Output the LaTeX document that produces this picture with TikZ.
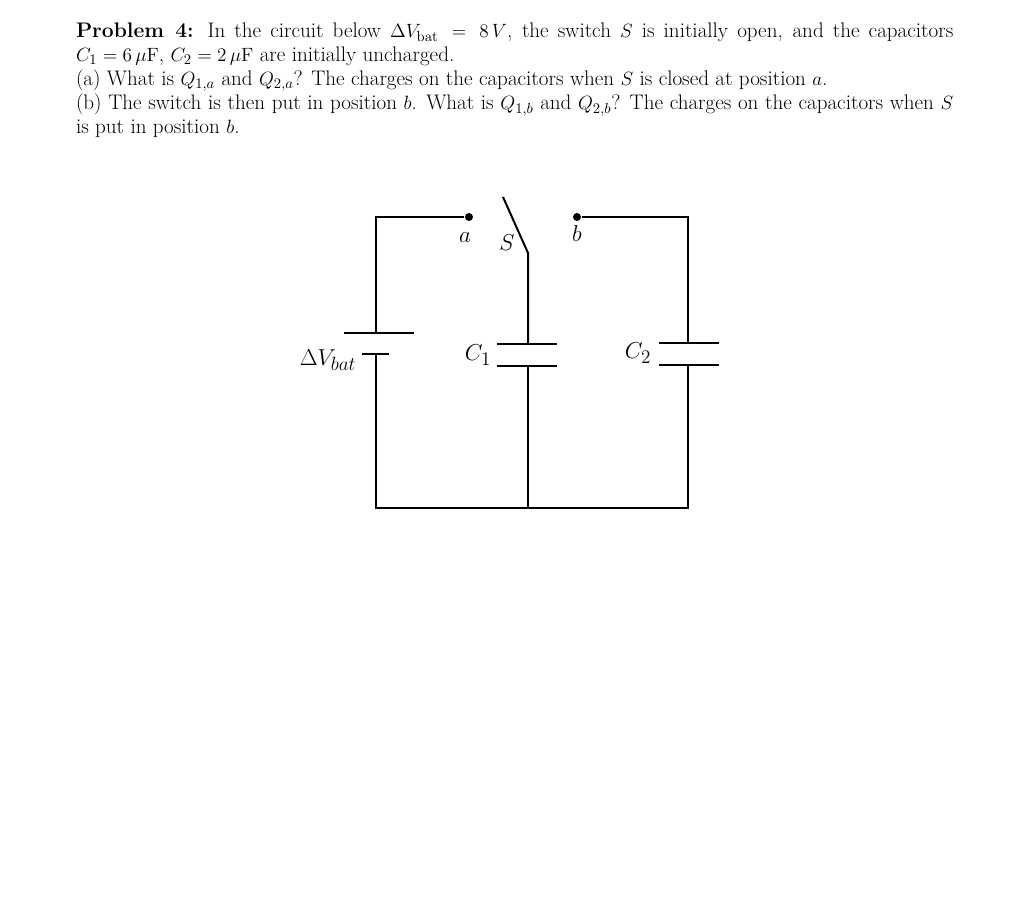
\documentclass[tikz,border=0pt]{standalone}
\begin{document}
\begin{tikzpicture}[x=0.75pt,y=-0.75pt,line width=1.5pt,
  wire/.style={line width=1.5pt},
  dot/.style={circle,fill=black,inner sep=0pt,minimum size=6pt},
  lbl/.style={font=\fontsize{19}{22}\selectfont}]
\useasboundingbox (0,0) rectangle (1024,919);
\node[anchor=north west,inner sep=0pt,text width=658pt,align=justify,font=\fontsize{15.8}{18}\selectfont] (txt) at (75,22)
{\textbf{Problem 4:} In the circuit below $\Delta V_{\mathrm{bat}}\,=\,8\,V$, the switch $S$ is initially open, and the capacitors $C_1=6\,\mu\mathrm{F}$, $C_2=2\,\mu\mathrm{F}$ are initially uncharged.\\
(a) What is $Q_{1,a}$ and $Q_{2,a}$? The charges on the capacitors when $S$ is closed at position $a$.\\
(b) The switch is then put in position $b$. What is $Q_{1,b}$ and $Q_{2,b}$? The charges on the capacitors when $S$ is put in position $b$.};
% coordinates
\node[dot] (a) at (469,217) {};
\node[dot] (b) at (577,217) {};
\coordinate (tl) at (376,217);
\coordinate (tr) at (688,217);
\coordinate (bl) at (376,508);
\coordinate (bm) at (528,508);
\coordinate (br) at (688,508);
\coordinate (s0) at (503,197);
\coordinate (s1) at (528,253);
% battery
\coordinate (bp) at (376,333);
\coordinate (bn) at (376,354);
\draw[wire] (bp) -- (tl) -- (a);
\draw[wire] (344,333) -- (414,333);
\draw[wire] (362,354) -- (389,354);
\draw[wire] (bn) -- (bl) -- (br) -- (688,365);
\draw[wire] (688,343) -- (tr) -- (b);
% switch and C1
\draw[wire] (s0) -- (s1) -- (528,344);
\draw[wire] (497,344) -- (557,344);
\draw[wire] (497,366) -- (557,366);
\draw[wire] (528,366) -- (bm);
% C2
\draw[wire] (659,343) -- (719,343);
\draw[wire] (659,365) -- (719,365);
% labels
\node[lbl] (la) at (465,238) {$a$};
\node[lbl] (lS) at (507,243) {$S$};
\node[lbl] (lb) at (577,234) {$b$};
\node[lbl] (lv) at (328,360) {$\Delta V_{bat}$};
\node[lbl] (l1) at (478,355) {$C_1$};
\node[lbl] (l2) at (638,353) {$C_2$};
\end{tikzpicture}
\end{document}
